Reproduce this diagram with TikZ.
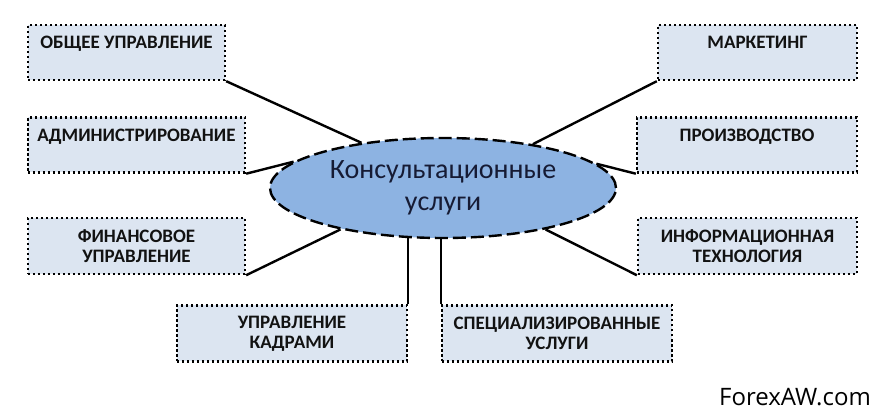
\documentclass[tikz,border=0pt]{standalone}
\usepackage{fontspec}
\setmainfont{Carlito}
\newfontfamily\markfont{Open Sans}
\usetikzlibrary{shapes.geometric,backgrounds}
\definecolor{boxfill}{RGB}{220,229,241}
\definecolor{ovalfill}{RGB}{141,179,226}
\definecolor{ovaltext}{RGB}{22,27,52}
\definecolor{boxtext}{RGB}{18,18,18}

\begin{document}
\begin{tikzpicture}[x=1pt,y=-1pt,
  area/.style={draw=black,fill=boxfill,line width=2.4pt,dash pattern=on 2.4pt off 2.6pt,
    font=\fontsize{19}{20}\selectfont\bfseries,text=boxtext,align=center,inner xsep=0pt},
  oneline/.style={area,text height=13pt,text depth=20pt,inner ysep=11pt},
  twoline/.style={area,inner ysep=0pt,minimum height=56pt},
  link/.style={line width=2.4pt,black}]
\useasboundingbox (0,0) rectangle (878,419);

% left column
\node[oneline,minimum width=197pt] (obshchee) at (126.5,52.5) {ОБЩЕЕ УПРАВЛЕНИЕ};
\node[oneline,minimum width=217pt] (admin) at (136.5,145) {АДМИНИСТРИРОВАНИЕ};
\node[twoline,minimum width=217pt] (finansy) at (136.5,246) {ФИНАНСОВОЕ\\УПРАВЛЕНИЕ};

% bottom row
\node[twoline,minimum width=230pt] (kadry) at (292,333.5) {УПРАВЛЕНИЕ\\КАДРАМИ};
\node[twoline,minimum width=230pt] (spec) at (557,333.5) {СПЕЦИАЛИЗИРОВАННЫЕ\\УСЛУГИ};

% right column
\node[oneline,minimum width=199pt] (marketing) at (757.5,52.5) {МАРКЕТИНГ};
\node[oneline,minimum width=220pt] (proizv) at (747,145) {ПРОИЗВОДСТВО};
\node[twoline,minimum width=219pt] (infotech) at (747.5,246) {ИНФОРМАЦИОННАЯ\\ТЕХНОЛОГИЯ};

\node[ellipse,draw=black,fill=ovalfill,line width=2.4pt,dash pattern=on 13pt off 5pt,
  minimum width=346pt,minimum height=100pt,inner sep=0pt,
  font=\fontsize{28}{32}\selectfont,text=ovaltext,align=center] (uslugi) at (443,188)
  {Консультационные\\услуги};

\begin{scope}[on background layer]
\draw[link] (obshchee.south east) -- (uslugi.151);
\draw[link] (admin.south east) -- (uslugi.170.6);
\draw[link] (finansy.south east) -- (uslugi.202);
\draw[link] (kadry.north east) -- (kadry.north east |- uslugi.center);
\draw[link] (spec.north west) -- (spec.north west |- uslugi.center);
\draw[link] (marketing.south west) -- (uslugi.26.3);
\draw[link] (proizv.south west) -- (uslugi.9.1);
\draw[link] (infotech.south west) -- (uslugi.-22);
\end{scope}

\node[font=\markfont\fontsize{24}{28}\selectfont,anchor=base east,inner sep=0pt] (site) at (871,406) {ForexAW.com};
\end{tikzpicture}
\end{document}
